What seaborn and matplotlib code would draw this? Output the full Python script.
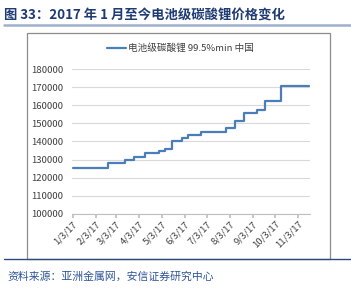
import matplotlib
matplotlib.use("Agg")
import matplotlib.pyplot as plt
import matplotlib.dates as mdates
import seaborn as sns
import pandas as pd
from matplotlib.patches import Rectangle
from matplotlib.lines import Line2D

dates = ["2017-01-03", "2017-02-19", "2017-03-14", "2017-03-27", "2017-04-10",
         "2017-04-30", "2017-05-07", "2017-05-17", "2017-05-30", "2017-06-07",
         "2017-06-25", "2017-07-29", "2017-08-10", "2017-08-22", "2017-09-09",
         "2017-09-20", "2017-10-11", "2017-11-18"]
prices = [125500, 128000, 129500, 131500, 133500, 135000, 136000, 140500, 142000,
          143500, 145000, 147500, 151500, 155500, 157500, 162500, 170500, 170500]
series_name = "电池级碳酸锂 99.5%min 中国"
tick_dates = ["2017-%02d-03" % m for m in range(1, 12)]
tick_labels = ["%d/3/17" % m for m in range(1, 12)]
y_ticks = list(range(100000, 180001, 10000))

sns.set_theme(style="white")
plt.rcParams['font.family'] = ['Noto Sans CJK SC', 'DejaVu Sans']

df = pd.DataFrame({"date": pd.to_datetime(dates), "price": prices})

fig = plt.figure(figsize=(3.51, 2.89), dpi=100)
ax = fig.add_axes([0.205, 0.26, 0.678, 0.501])

sns.lineplot(data=df, x="date", y="price", ax=ax, color="#4a7ebb", lw=1.6,
             drawstyle="steps-post", label=series_name, legend=False)

ax.set_ylim(100000, 180000)
ax.set_xlim(pd.Timestamp("2017-01-02"), pd.Timestamp("2017-11-19"))
ax.set_yticks(y_ticks)
ax.set_yticklabels([str(v) for v in y_ticks], fontsize=6.9, color="#404040")
ax.set_xticks(pd.to_datetime(tick_dates))
ax.set_xticklabels(tick_labels, rotation=45, ha="right", rotation_mode="anchor",
                   fontsize=6.9, color="#404040")
ax.grid(axis="y", color="#d9d9d9", lw=0.8)
ax.set_xlabel("")
ax.set_ylabel("")
for s in ["left", "right", "top"]:
    ax.spines[s].set_visible(False)
ax.spines["bottom"].set_color("#bfbfbf")
ax.spines["bottom"].set_linewidth(0.8)
ax.tick_params(axis="x", which="major", bottom=True, length=3, color="#bfbfbf", pad=1)
ax.tick_params(axis="y", length=0, pad=6)

# legend
fig.add_artist(Line2D([0.305, 0.36], [0.834, 0.834], color="#4a7ebb", lw=1.6))
fig.text(0.365, 0.834, series_name, fontsize=6.9, color="#404040", va="center")

# chart frame
fig.add_artist(Rectangle((0.077, 0.104), 0.863, 0.782, fill=False,
                         edgecolor="#8c8c8c", lw=0.9, transform=fig.transFigure))
# title & lines
fig.text(0.012, 0.945, "图 33：2017 年 1 月至今电池级碳酸锂价格变化", fontsize=9.6,
         fontweight="bold", color="#1f3b73", va="center")
fig.add_artist(Line2D([0.012, 1.0], [0.912, 0.912], color="#9fb0cc", lw=1.8))
fig.add_artist(Line2D([0.012, 1.0], [0.103, 0.103], color="#2e4a7d", lw=1.0))
fig.text(0.022, 0.042, "资料来源：亚洲金属网，安信证券研究中心", fontsize=7.8,
         style="italic", color="#2f5597", va="center")

fig.savefig("out.png", dpi=100)
